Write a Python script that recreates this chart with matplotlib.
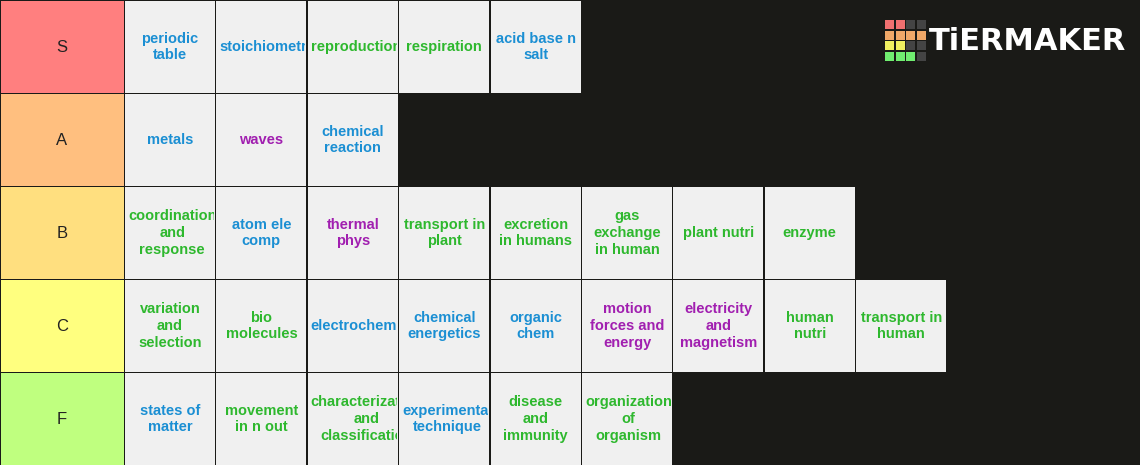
import matplotlib
matplotlib.use("Agg")
import matplotlib.pyplot as plt
from matplotlib.patches import Rectangle
from matplotlib.transforms import Bbox, TransformedBbox

tiers = ["S", "A", "B", "C", "F"]
tier_colors = ["#ff7f7f", "#ffbf7f", "#ffdf7f", "#ffff7f", "#bfff7f"]
items = [
    [("periodic\ntable", "b"), ("stoichiometry", "b"), ("reproduction", "g"), ("respiration", "g"), ("acid base n\nsalt", "b")],
    [("metals", "b"), ("waves", "p"), ("chemical\nreaction", "b")],
    [("coordination\nand\nresponse", "g"), ("atom ele\ncomp", "b"), ("thermal\nphys", "p"), ("transport in\nplant", "g"),
     ("excretion\nin humans", "g"), ("gas\nexchange\nin human", "g"), ("plant nutri", "g"), ("enzyme", "g")],
    [("variation\nand\nselection", "g"), ("bio\nmolecules", "g"), ("electrochem", "b"), ("chemical\nenergetics", "b"),
     ("organic\nchem", "b"), ("motion\nforces and\nenergy", "p"), ("electricity\nand\nmagnetism", "p"), ("human\nnutri", "g"),
     ("transport in\nhuman", "g")],
    [("states of\nmatter", "b"), ("movement\nin n out", "g"), ("characterization\nand\nclassification", "g"),
     ("experimental\ntechnique", "b"), ("disease\nand\nimmunity", "g"), ("organization\nof\norganism", "g")],
]
text_colors = {"b": "#1b8fd3", "g": "#2eb82e", "p": "#a11fb0"}

W, H = 1140, 465
fig = plt.figure(figsize=(W / 100, H / 100), dpi=100)
fig.patch.set_facecolor("#1a1a17")
ax = fig.add_axes([0, 0, 1, 1])
ax.set_xlim(0, W)
ax.set_ylim(H, 0)
ax.axis("off")
renderer = fig.canvas.get_renderer()

row_h = 93
for i, (t, c) in enumerate(zip(tiers, tier_colors)):
    top = 1 + i * row_h
    ax.add_patch(Rectangle((1, top), 123, row_h - 1, facecolor=c, edgecolor="none"))
    ax.text(62, top + (row_h - 1) / 2, t, ha="center", va="center", fontsize=12, color="#222222",
            family="Liberation Sans")
    for j, (label, col) in enumerate(items[i]):
        x0 = 125 + j * 91.4
        r = Rectangle((x0, top), 90, row_h - 1, facecolor="#f0f0f0", edgecolor="none")
        ax.add_patch(r)
        txt = ax.text(x0 + 45, top + (row_h - 1) / 2, label, ha="center", va="center", fontsize=10.5,
                      fontweight="bold", color=text_colors[col], family="Liberation Sans", linespacing=1.25,
                      multialignment="center")
        w = txt.get_window_extent(renderer).width
        if w > 86:
            txt.set_x(x0 + 3)
            txt.set_ha("left")
        txt.set_clip_box(TransformedBbox(Bbox([[x0 + 1, top], [x0 + 89, top + row_h - 1]]), ax.transData))
        txt.set_clip_on(True)

# logo
grid = [["#f07070", "#f07070", "#444444", "#444444"],
        ["#f0a868", "#f0a868", "#f0a868", "#f0a868"],
        ["#f0f060", "#f0f060", "#444444", "#444444"],
        ["#70ee70", "#70ee70", "#70ee70", "#444444"]]
for r_, row in enumerate(grid):
    for c_, col in enumerate(row):
        ax.add_patch(Rectangle((885 + c_ * 10.6, 20 + r_ * 10.6), 9, 9, facecolor=col, edgecolor="none"))
ax.text(1028, 42, "TiERMAKER", ha="center", va="center", fontsize=22, fontweight="bold", color="white",
        family="DejaVu Sans")

fig.savefig("out.png", dpi=100, facecolor=fig.get_facecolor())
